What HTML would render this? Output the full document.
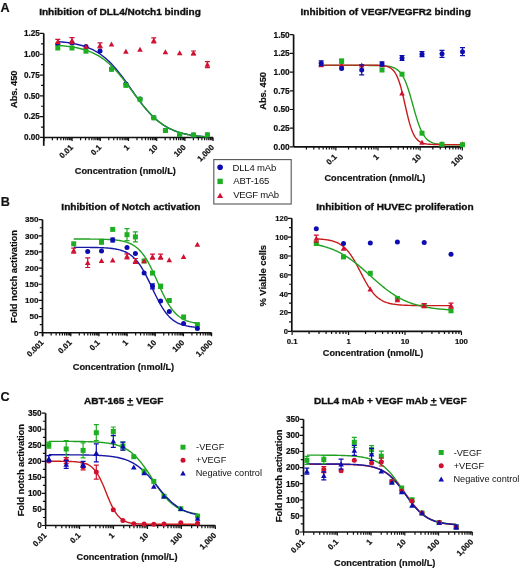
<!DOCTYPE html><html><head><meta charset="utf-8"><style>html,body{margin:0;padding:0;background:#fff;}svg{display:block;filter:blur(0.35px);}text{font-family:"Liberation Sans",sans-serif;}</style></head><body>
<svg width="520" height="570" viewBox="0 0 520 570">
<text x="0.60" y="11.50" font-size="13.6" font-weight="700" text-anchor="start" fill="#111" stroke="#111" stroke-width="0.2" transform="translate(0.60 11.50) scale(0.93 1) translate(-0.60 -11.50)">A</text>
<text x="0.80" y="206.00" font-size="13.6" font-weight="700" text-anchor="start" fill="#111" stroke="#111" stroke-width="0.2" transform="translate(0.80 206.00) scale(0.93 1) translate(-0.80 -206.00)">B</text>
<text x="0.50" y="400.80" font-size="13.6" font-weight="700" text-anchor="start" fill="#111" stroke="#111" stroke-width="0.2" transform="translate(0.50 400.80) scale(0.93 1) translate(-0.50 -400.80)">C</text>
<text x="39.15" y="14.50" font-size="9.7" font-weight="700" fill="#111" stroke="#111" stroke-width="0.35" textLength="161.80" lengthAdjust="spacingAndGlyphs">Inhibition of DLL4/Notch1 binding</text>
<text x="17.50" y="107.93" font-size="9.4" font-weight="700" fill="#111" stroke="#111" stroke-width="0.2" textLength="37.32" lengthAdjust="spacing" transform="rotate(-90 17.50 107.93)">Abs. 450</text>
<text x="74.81" y="174.40" font-size="9.4" font-weight="700" fill="#111" stroke="#111" stroke-width="0.2" textLength="101.05" lengthAdjust="spacingAndGlyphs">Concentration (nmol/L)</text>
<path d="M43.75 33.45V145.80" stroke="#111" stroke-width="1.7" fill="none"/>
<path d="M43.75 137.45H39.95 M43.75 127.05H41.05 M43.75 116.65H39.95 M43.75 106.25H41.05 M43.75 95.85H39.95 M43.75 85.45H41.05 M43.75 75.05H39.95 M43.75 64.65H41.05 M43.75 54.25H39.95 M43.75 43.85H41.05 M43.75 33.45H39.95" stroke="#111" stroke-width="1.2" fill="none"/>
<text x="39.85" y="140.25" font-size="8.2" font-weight="700" text-anchor="end" fill="#111" stroke="#111" stroke-width="0.2">0.00</text>
<text x="39.85" y="119.45" font-size="8.2" font-weight="700" text-anchor="end" fill="#111" stroke="#111" stroke-width="0.2">0.25</text>
<text x="39.85" y="98.65" font-size="8.2" font-weight="700" text-anchor="end" fill="#111" stroke="#111" stroke-width="0.2">0.50</text>
<text x="39.85" y="77.85" font-size="8.2" font-weight="700" text-anchor="end" fill="#111" stroke="#111" stroke-width="0.2">0.75</text>
<text x="39.85" y="57.05" font-size="8.2" font-weight="700" text-anchor="end" fill="#111" stroke="#111" stroke-width="0.2">1.00</text>
<text x="39.85" y="36.25" font-size="8.2" font-weight="700" text-anchor="end" fill="#111" stroke="#111" stroke-width="0.2">1.25</text>
<path d="M43.90 137.45H213.10" stroke="#111" stroke-width="1.6" fill="none"/>
<path d="M43.90 137.45V141.05 M52.39 137.45V140.15 M57.35 137.45V140.15 M60.88 137.45V140.15 M63.61 137.45V140.15 M65.84 137.45V140.15 M67.73 137.45V140.15 M69.37 137.45V140.15 M70.81 137.45V140.15 M72.10 137.45V141.05 M80.59 137.45V140.15 M85.55 137.45V140.15 M89.08 137.45V140.15 M91.81 137.45V140.15 M94.04 137.45V140.15 M95.93 137.45V140.15 M97.57 137.45V140.15 M99.01 137.45V140.15 M100.30 137.45V141.05 M108.79 137.45V140.15 M113.75 137.45V140.15 M117.28 137.45V140.15 M120.01 137.45V140.15 M122.24 137.45V140.15 M124.13 137.45V140.15 M125.77 137.45V140.15 M127.21 137.45V140.15 M128.50 137.45V141.05 M136.99 137.45V140.15 M141.95 137.45V140.15 M145.48 137.45V140.15 M148.21 137.45V140.15 M150.44 137.45V140.15 M152.33 137.45V140.15 M153.97 137.45V140.15 M155.41 137.45V140.15 M156.70 137.45V141.05 M165.19 137.45V140.15 M170.15 137.45V140.15 M173.68 137.45V140.15 M176.41 137.45V140.15 M178.64 137.45V140.15 M180.53 137.45V140.15 M182.17 137.45V140.15 M183.61 137.45V140.15 M184.90 137.45V141.05 M193.39 137.45V140.15 M198.35 137.45V140.15 M201.88 137.45V140.15 M204.61 137.45V140.15 M206.84 137.45V140.15 M208.73 137.45V140.15 M210.37 137.45V140.15 M211.81 137.45V140.15 M213.10 137.45V141.05" stroke="#111" stroke-width="1.2" fill="none"/>
<text x="73.60" y="147.85" font-size="8.0" font-weight="700" text-anchor="end" fill="#111" stroke="#111" stroke-width="0.2" transform="rotate(-45 73.60 147.85)">0.01</text>
<text x="101.80" y="147.85" font-size="8.0" font-weight="700" text-anchor="end" fill="#111" stroke="#111" stroke-width="0.2" transform="rotate(-45 101.80 147.85)">0.1</text>
<text x="130.00" y="147.85" font-size="8.0" font-weight="700" text-anchor="end" fill="#111" stroke="#111" stroke-width="0.2" transform="rotate(-45 130.00 147.85)">1</text>
<text x="158.20" y="147.85" font-size="8.0" font-weight="700" text-anchor="end" fill="#111" stroke="#111" stroke-width="0.2" transform="rotate(-45 158.20 147.85)">10</text>
<text x="186.40" y="147.85" font-size="8.0" font-weight="700" text-anchor="end" fill="#111" stroke="#111" stroke-width="0.2" transform="rotate(-45 186.40 147.85)">100</text>
<text x="214.60" y="147.85" font-size="8.0" font-weight="700" text-anchor="end" fill="#111" stroke="#111" stroke-width="0.2" transform="rotate(-45 214.60 147.85)">1,000</text>
<polyline points="57.80,41.62 58.80,41.70 59.79,41.79 60.79,41.88 61.79,41.97 62.79,42.07 63.78,42.18 64.78,42.29 65.78,42.40 66.78,42.53 67.77,42.66 68.77,42.80 69.77,42.95 70.77,43.10 71.76,43.27 72.76,43.44 73.76,43.62 74.75,43.82 75.75,44.02 76.75,44.23 77.75,44.46 78.74,44.70 79.74,44.95 80.74,45.22 81.74,45.50 82.73,45.79 83.73,46.10 84.73,46.43 85.73,46.77 86.72,47.13 87.72,47.51 88.72,47.91 89.71,48.33 90.71,48.77 91.71,49.23 92.71,49.71 93.70,50.22 94.70,50.75 95.70,51.31 96.70,51.89 97.69,52.49 98.69,53.13 99.69,53.79 100.69,54.48 101.68,55.20 102.68,55.95 103.68,56.73 104.67,57.54 105.67,58.38 106.67,59.25 107.67,60.15 108.66,61.09 109.66,62.05 110.66,63.05 111.66,64.08 112.65,65.14 113.65,66.23 114.65,67.35 115.65,68.50 116.64,69.68 117.64,70.89 118.64,72.12 119.63,73.38 120.63,74.66 121.63,75.97 122.63,77.29 123.62,78.63 124.62,79.99 125.62,81.37 126.62,82.76 127.61,84.15 128.61,85.56 129.61,86.97 130.61,88.39 131.60,89.81 132.60,91.22 133.60,92.64 134.59,94.04 135.59,95.44 136.59,96.83 137.59,98.21 138.58,99.57 139.58,100.91 140.58,102.24 141.58,103.54 142.57,104.82 143.57,106.08 144.57,107.32 145.57,108.53 146.56,109.71 147.56,110.86 148.56,111.98 149.55,113.07 150.55,114.14 151.55,115.17 152.55,116.17 153.54,117.13 154.54,118.07 155.54,118.97 156.54,119.85 157.53,120.69 158.53,121.50 159.53,122.28 160.53,123.03 161.52,123.75 162.52,124.44 163.52,125.11 164.51,125.74 165.51,126.35 166.51,126.93 167.51,127.49 168.50,128.02 169.50,128.53 170.50,129.01 171.50,129.48 172.49,129.92 173.49,130.34 174.49,130.74 175.49,131.12 176.48,131.48 177.48,131.82 178.48,132.15 179.47,132.46 180.47,132.76 181.47,133.04 182.47,133.30 183.46,133.56 184.46,133.80 185.46,134.02 186.46,134.24 187.45,134.44 188.45,134.64 189.45,134.82 190.45,134.99 191.44,135.16 192.44,135.31 193.44,135.46 194.43,135.60 195.43,135.73 196.43,135.86 197.43,135.98 198.42,136.09 199.42,136.19 200.42,136.29 201.42,136.39 202.41,136.48 203.41,136.56 204.41,136.64 205.41,136.72 206.40,136.79 207.40,136.86" fill="none" stroke="#1818a8" stroke-width="1.4"/>
<circle cx="57.80" cy="44.50" r="2.50" fill="#0c0cb0"/>
<circle cx="72.00" cy="43.00" r="2.50" fill="#0c0cb0"/>
<circle cx="86.00" cy="46.60" r="2.50" fill="#0c0cb0"/>
<circle cx="100.00" cy="51.00" r="2.50" fill="#0c0cb0"/>
<circle cx="111.50" cy="69.00" r="2.50" fill="#0c0cb0"/>
<circle cx="125.90" cy="84.00" r="2.50" fill="#0c0cb0"/>
<circle cx="140.00" cy="99.00" r="2.50" fill="#0c0cb0"/>
<circle cx="153.80" cy="117.80" r="2.50" fill="#0c0cb0"/>
<circle cx="165.40" cy="130.50" r="2.50" fill="#0c0cb0"/>
<circle cx="179.70" cy="135.00" r="2.50" fill="#0c0cb0"/>
<circle cx="193.50" cy="134.90" r="2.50" fill="#0c0cb0"/>
<circle cx="207.40" cy="135.00" r="2.50" fill="#0c0cb0"/>
<polyline points="57.80,45.41 58.80,45.48 59.79,45.56 60.79,45.64 61.79,45.73 62.79,45.82 63.78,45.91 64.78,46.02 65.78,46.12 66.78,46.24 67.77,46.36 68.77,46.49 69.77,46.62 70.77,46.76 71.76,46.91 72.76,47.07 73.76,47.24 74.75,47.42 75.75,47.60 76.75,47.80 77.75,48.01 78.74,48.23 79.74,48.46 80.74,48.70 81.74,48.96 82.73,49.23 83.73,49.51 84.73,49.81 85.73,50.12 86.72,50.45 87.72,50.80 88.72,51.17 89.71,51.55 90.71,51.95 91.71,52.38 92.71,52.82 93.70,53.28 94.70,53.77 95.70,54.28 96.70,54.81 97.69,55.37 98.69,55.96 99.69,56.56 100.69,57.20 101.68,57.86 102.68,58.55 103.68,59.27 104.67,60.02 105.67,60.79 106.67,61.60 107.67,62.43 108.66,63.30 109.66,64.19 110.66,65.12 111.66,66.07 112.65,67.06 113.65,68.07 114.65,69.12 115.65,70.19 116.64,71.29 117.64,72.42 118.64,73.57 119.63,74.75 120.63,75.96 121.63,77.18 122.63,78.43 123.62,79.70 124.62,80.98 125.62,82.29 126.62,83.60 127.61,84.93 128.61,86.27 129.61,87.61 130.61,88.96 131.60,90.32 132.60,91.68 133.60,93.03 134.59,94.39 135.59,95.73 136.59,97.07 137.59,98.40 138.58,99.72 139.58,101.03 140.58,102.32 141.58,103.59 142.57,104.84 143.57,106.07 144.57,107.28 145.57,108.47 146.56,109.63 147.56,110.76 148.56,111.87 149.55,112.95 150.55,114.00 151.55,115.02 152.55,116.01 153.54,116.98 154.54,117.91 155.54,118.81 156.54,119.68 157.53,120.53 158.53,121.34 159.53,122.12 160.53,122.88 161.52,123.60 162.52,124.30 163.52,124.97 164.51,125.61 165.51,126.22 166.51,126.81 167.51,127.37 168.50,127.91 169.50,128.43 170.50,128.92 171.50,129.39 172.49,129.84 173.49,130.27 174.49,130.68 175.49,131.06 176.48,131.43 177.48,131.79 178.48,132.12 179.47,132.44 180.47,132.74 181.47,133.03 182.47,133.30 183.46,133.56 184.46,133.81 185.46,134.04 186.46,134.26 187.45,134.47 188.45,134.67 189.45,134.86 190.45,135.04 191.44,135.21 192.44,135.37 193.44,135.52 194.43,135.67 195.43,135.80 196.43,135.93 197.43,136.05 198.42,136.17 199.42,136.28 200.42,136.38 201.42,136.48 202.41,136.57 203.41,136.66 204.41,136.74 205.41,136.82 206.40,136.90 207.40,136.97" fill="none" stroke="#20a020" stroke-width="1.4"/>
<rect x="55.30" y="45.50" width="5.00" height="5.00" fill="#1eae22"/>
<rect x="69.50" y="45.50" width="5.00" height="5.00" fill="#1eae22"/>
<rect x="83.50" y="48.70" width="5.00" height="5.00" fill="#1eae22"/>
<rect x="109.00" y="66.80" width="5.00" height="5.00" fill="#1eae22"/>
<rect x="123.40" y="82.90" width="5.00" height="5.00" fill="#1eae22"/>
<rect x="137.50" y="96.80" width="5.00" height="5.00" fill="#1eae22"/>
<rect x="151.30" y="115.30" width="5.00" height="5.00" fill="#1eae22"/>
<rect x="162.90" y="128.00" width="5.00" height="5.00" fill="#1eae22"/>
<rect x="177.20" y="132.00" width="5.00" height="5.00" fill="#1eae22"/>
<rect x="191.00" y="132.50" width="5.00" height="5.00" fill="#1eae22"/>
<rect x="204.90" y="132.30" width="5.00" height="5.00" fill="#1eae22"/>
<path d="M57.80 39.40V43.40M55.30 39.40H60.30M55.30 43.40H60.30" stroke="#d01030" stroke-width="1.2" fill="none"/>
<polygon points="57.80,38.65 60.60,43.65 55.00,43.65" fill="#d01030"/>
<path d="M72.00 37.60V43.60M69.50 37.60H74.50M69.50 43.60H74.50" stroke="#d01030" stroke-width="1.2" fill="none"/>
<polygon points="72.00,37.85 74.80,42.85 69.20,42.85" fill="#d01030"/>
<polygon points="86.00,43.85 88.80,48.85 83.20,48.85" fill="#d01030"/>
<path d="M100.00 42.90V47.90M97.50 42.90H102.50M97.50 47.90H102.50" stroke="#d01030" stroke-width="1.2" fill="none"/>
<polygon points="100.00,42.65 102.80,47.65 97.20,47.65" fill="#d01030"/>
<polygon points="111.50,41.55 114.30,46.55 108.70,46.55" fill="#d01030"/>
<polygon points="125.90,48.75 128.70,53.75 123.10,53.75" fill="#d01030"/>
<polygon points="140.00,46.85 142.80,51.85 137.20,51.85" fill="#d01030"/>
<path d="M153.80 37.90V42.90M151.30 37.90H156.30M151.30 42.90H156.30" stroke="#d01030" stroke-width="1.2" fill="none"/>
<polygon points="153.80,37.65 156.60,42.65 151.00,42.65" fill="#d01030"/>
<polygon points="165.40,49.25 168.20,54.25 162.60,54.25" fill="#d01030"/>
<polygon points="179.70,50.25 182.50,55.25 176.90,55.25" fill="#d01030"/>
<path d="M193.50 51.00V55.00M191.00 51.00H196.00M191.00 55.00H196.00" stroke="#d01030" stroke-width="1.2" fill="none"/>
<polygon points="193.50,50.25 196.30,55.25 190.70,55.25" fill="#d01030"/>
<path d="M207.40 61.60V67.60M204.90 61.60H209.90M204.90 67.60H209.90" stroke="#d01030" stroke-width="1.2" fill="none"/>
<polygon points="207.40,61.85 210.20,66.85 204.60,66.85" fill="#d01030"/>
<rect x="213.8" y="159.6" width="77.4" height="44.4" fill="#fff" stroke="#555" stroke-width="1.1"/>
<circle cx="220.10" cy="167.20" r="2.80" fill="#0c0cb0"/>
<text x="232.42" y="170.90" font-size="9.5" font-weight="400" fill="#111" textLength="43.88" lengthAdjust="spacing">DLL4 mAb</text>
<rect x="217.40" y="178.70" width="5.40" height="5.40" fill="#1eae22"/>
<text x="233.18" y="184.10" font-size="9.5" font-weight="400" fill="#111" textLength="36.22" lengthAdjust="spacing">ABT-165</text>
<polygon points="220.10,192.63 223.12,198.03 217.08,198.03" fill="#d01030"/>
<text x="233.16" y="197.90" font-size="9.5" font-weight="400" fill="#111" textLength="45.94" lengthAdjust="spacing">VEGF mAb</text>
<text x="300.55" y="14.50" font-size="9.7" font-weight="700" fill="#111" stroke="#111" stroke-width="0.35" textLength="170.30" lengthAdjust="spacingAndGlyphs">Inhibition of VEGF/VEGFR2 binding</text>
<text x="265.90" y="109.73" font-size="9.4" font-weight="700" fill="#111" stroke="#111" stroke-width="0.2" textLength="37.72" lengthAdjust="spacing" transform="rotate(-90 265.90 109.73)">Abs. 450</text>
<text x="324.51" y="181.00" font-size="9.4" font-weight="700" fill="#111" stroke="#111" stroke-width="0.2" textLength="100.85" lengthAdjust="spacingAndGlyphs">Concentration (nmol/L)</text>
<path d="M293.60 34.70V146.90" stroke="#111" stroke-width="1.7" fill="none"/>
<path d="M293.60 146.90H289.80 M293.60 128.20H289.80 M293.60 109.50H289.80 M293.60 90.80H289.80 M293.60 72.10H289.80 M293.60 53.40H289.80 M293.60 34.70H289.80" stroke="#111" stroke-width="1.2" fill="none"/>
<text x="289.70" y="149.70" font-size="8.3" font-weight="700" text-anchor="end" fill="#111" stroke="#111" stroke-width="0.2">0.00</text>
<text x="289.70" y="131.00" font-size="8.3" font-weight="700" text-anchor="end" fill="#111" stroke="#111" stroke-width="0.2">0.25</text>
<text x="289.70" y="112.30" font-size="8.3" font-weight="700" text-anchor="end" fill="#111" stroke="#111" stroke-width="0.2">0.50</text>
<text x="289.70" y="93.60" font-size="8.3" font-weight="700" text-anchor="end" fill="#111" stroke="#111" stroke-width="0.2">0.75</text>
<text x="289.70" y="74.90" font-size="8.3" font-weight="700" text-anchor="end" fill="#111" stroke="#111" stroke-width="0.2">1.00</text>
<text x="289.70" y="56.20" font-size="8.3" font-weight="700" text-anchor="end" fill="#111" stroke="#111" stroke-width="0.2">1.25</text>
<text x="289.70" y="37.50" font-size="8.3" font-weight="700" text-anchor="end" fill="#111" stroke="#111" stroke-width="0.2">1.50</text>
<path d="M293.70 146.90H462.30" stroke="#111" stroke-width="1.6" fill="none"/>
<path d="M306.39 146.90V149.60 M313.81 146.90V149.60 M319.08 146.90V149.60 M323.16 146.90V149.60 M326.50 146.90V149.60 M329.32 146.90V149.60 M331.77 146.90V149.60 M333.92 146.90V149.60 M335.85 146.90V150.50 M348.54 146.90V149.60 M355.96 146.90V149.60 M361.23 146.90V149.60 M365.31 146.90V149.60 M368.65 146.90V149.60 M371.47 146.90V149.60 M373.92 146.90V149.60 M376.07 146.90V149.60 M378.00 146.90V150.50 M390.69 146.90V149.60 M398.11 146.90V149.60 M403.38 146.90V149.60 M407.46 146.90V149.60 M410.80 146.90V149.60 M413.62 146.90V149.60 M416.07 146.90V149.60 M418.22 146.90V149.60 M420.15 146.90V150.50 M432.84 146.90V149.60 M440.26 146.90V149.60 M445.53 146.90V149.60 M449.61 146.90V149.60 M452.95 146.90V149.60 M455.77 146.90V149.60 M458.22 146.90V149.60 M460.37 146.90V149.60 M462.30 146.90V150.50" stroke="#111" stroke-width="1.2" fill="none"/>
<text x="337.35" y="157.30" font-size="8.0" font-weight="700" text-anchor="end" fill="#111" stroke="#111" stroke-width="0.2" transform="rotate(-45 337.35 157.30)">0.1</text>
<text x="379.50" y="157.30" font-size="8.0" font-weight="700" text-anchor="end" fill="#111" stroke="#111" stroke-width="0.2" transform="rotate(-45 379.50 157.30)">1</text>
<text x="421.65" y="157.30" font-size="8.0" font-weight="700" text-anchor="end" fill="#111" stroke="#111" stroke-width="0.2" transform="rotate(-45 421.65 157.30)">10</text>
<text x="463.80" y="157.30" font-size="8.0" font-weight="700" text-anchor="end" fill="#111" stroke="#111" stroke-width="0.2" transform="rotate(-45 463.80 157.30)">100</text>
<polyline points="321.20,65.40 322.20,65.40 323.19,65.40 324.19,65.40 325.18,65.40 326.18,65.40 327.17,65.40 328.17,65.40 329.16,65.40 330.16,65.40 331.15,65.40 332.15,65.40 333.14,65.40 334.14,65.40 335.13,65.40 336.13,65.40 337.12,65.40 338.12,65.40 339.11,65.40 340.11,65.40 341.10,65.40 342.10,65.40 343.09,65.40 344.09,65.40 345.08,65.40 346.08,65.40 347.07,65.40 348.07,65.40 349.06,65.40 350.06,65.40 351.05,65.40 352.05,65.40 353.04,65.40 354.04,65.40 355.03,65.40 356.03,65.40 357.02,65.40 358.02,65.40 359.01,65.40 360.01,65.40 361.00,65.41 362.00,65.41 362.99,65.41 363.99,65.41 364.98,65.41 365.98,65.41 366.97,65.42 367.97,65.42 368.96,65.43 369.96,65.43 370.95,65.44 371.95,65.44 372.94,65.45 373.94,65.46 374.93,65.48 375.93,65.49 376.92,65.51 377.92,65.53 378.91,65.56 379.91,65.59 380.90,65.63 381.90,65.67 382.89,65.73 383.89,65.79 384.88,65.87 385.88,65.96 386.87,66.07 387.87,66.21 388.86,66.36 389.86,66.55 390.85,66.78 391.85,67.05 392.85,67.37 393.84,67.75 394.84,68.21 395.83,68.74 396.83,69.38 397.82,70.12 398.82,71.00 399.81,72.02 400.81,73.21 401.80,74.59 402.80,76.18 403.79,77.99 404.79,80.04 405.78,82.33 406.78,84.88 407.77,87.68 408.77,90.71 409.76,93.95 410.76,97.35 411.75,100.88 412.75,104.48 413.74,108.09 414.74,111.66 415.73,115.11 416.73,118.42 417.72,121.53 418.72,124.41 419.71,127.06 420.71,129.45 421.70,131.59 422.70,133.48 423.69,135.15 424.69,136.60 425.68,137.86 426.68,138.94 427.67,139.87 428.67,140.66 429.66,141.34 430.66,141.91 431.65,142.39 432.65,142.80 433.64,143.14 434.64,143.43 435.63,143.67 436.63,143.87 437.62,144.04 438.62,144.18 439.61,144.30 440.61,144.40 441.60,144.48 442.60,144.55 443.59,144.61 444.59,144.66 445.58,144.70 446.58,144.73 447.57,144.76 448.57,144.78 449.56,144.80 450.56,144.82 451.55,144.83 452.55,144.84 453.54,144.85 454.54,144.86 455.53,144.87 456.53,144.87 457.52,144.88 458.52,144.88 459.51,144.88 460.51,144.89 461.50,144.89 462.50,144.89" fill="none" stroke="#20a020" stroke-width="1.4"/>
<polyline points="321.20,65.10 322.20,65.10 323.19,65.10 324.19,65.10 325.18,65.10 326.18,65.10 327.17,65.10 328.17,65.10 329.16,65.10 330.16,65.10 331.15,65.10 332.15,65.10 333.14,65.10 334.14,65.10 335.13,65.10 336.13,65.10 337.12,65.10 338.12,65.10 339.11,65.10 340.11,65.10 341.10,65.10 342.10,65.10 343.09,65.10 344.09,65.10 345.08,65.10 346.08,65.10 347.07,65.10 348.07,65.10 349.06,65.10 350.06,65.10 351.05,65.10 352.05,65.10 353.04,65.10 354.04,65.10 355.03,65.10 356.03,65.10 357.02,65.10 358.02,65.10 359.01,65.10 360.01,65.10 361.00,65.10 362.00,65.11 362.99,65.11 363.99,65.11 364.98,65.11 365.98,65.11 366.97,65.12 367.97,65.12 368.96,65.12 369.96,65.13 370.95,65.14 371.95,65.15 372.94,65.16 373.94,65.17 374.93,65.19 375.93,65.22 376.92,65.25 377.92,65.28 378.91,65.33 379.91,65.38 380.90,65.45 381.90,65.54 382.89,65.65 383.89,65.79 384.88,65.96 385.88,66.17 386.87,66.43 387.87,66.75 388.86,67.15 389.86,67.65 390.85,68.26 391.85,69.01 392.85,69.92 393.84,71.04 394.84,72.38 395.83,73.99 396.83,75.91 397.82,78.16 398.82,80.78 399.81,83.77 400.81,87.13 401.80,90.85 402.80,94.86 403.79,99.11 404.79,103.49 405.78,107.91 406.78,112.25 407.77,116.42 408.77,120.33 409.76,123.91 410.76,127.13 411.75,129.97 412.75,132.44 413.74,134.56 414.74,136.36 415.73,137.86 416.73,139.11 417.72,140.14 418.72,140.99 419.71,141.68 420.71,142.25 421.70,142.70 422.70,143.07 423.69,143.37 424.69,143.61 425.68,143.80 426.68,143.96 427.67,144.08 428.67,144.19 429.66,144.27 430.66,144.33 431.65,144.38 432.65,144.42 433.64,144.46 434.64,144.48 435.63,144.50 436.63,144.52 437.62,144.54 438.62,144.55 439.61,144.55 440.61,144.56 441.60,144.57 442.60,144.57 443.59,144.58 444.59,144.58 445.58,144.58 446.58,144.58 447.57,144.58 448.57,144.59 449.56,144.59 450.56,144.59 451.55,144.59 452.55,144.59 453.54,144.59 454.54,144.59 455.53,144.59 456.53,144.59 457.52,144.59 458.52,144.59 459.51,144.59 460.51,144.59 461.50,144.59 462.50,144.59" fill="none" stroke="#c81c1c" stroke-width="1.4"/>
<polygon points="321.20,62.25 324.00,67.25 318.40,67.25" fill="#d01030"/>
<polygon points="341.60,62.25 344.40,67.25 338.80,67.25" fill="#d01030"/>
<polygon points="361.70,62.45 364.50,67.45 358.90,67.45" fill="#d01030"/>
<polygon points="382.00,62.25 384.80,67.25 379.20,67.25" fill="#d01030"/>
<polygon points="402.00,90.45 404.80,95.45 399.20,95.45" fill="#d01030"/>
<polygon points="422.00,139.85 424.80,144.85 419.20,144.85" fill="#d01030"/>
<polygon points="442.00,141.25 444.80,146.25 439.20,146.25" fill="#d01030"/>
<polygon points="462.50,141.25 465.30,146.25 459.70,146.25" fill="#d01030"/>
<path d="M341.60 59.20V63.20M339.10 59.20H344.10M339.10 63.20H344.10" stroke="#1eae22" stroke-width="1.2" fill="none"/>
<rect x="339.10" y="58.70" width="5.00" height="5.00" fill="#1eae22"/>
<rect x="379.50" y="67.50" width="5.00" height="5.00" fill="#1eae22"/>
<rect x="399.50" y="71.70" width="5.00" height="5.00" fill="#1eae22"/>
<rect x="419.50" y="130.70" width="5.00" height="5.00" fill="#1eae22"/>
<rect x="439.50" y="141.80" width="5.00" height="5.00" fill="#1eae22"/>
<rect x="460.00" y="142.20" width="5.00" height="5.00" fill="#1eae22"/>
<path d="M321.20 60.80V65.60M318.70 60.80H323.70M318.70 65.60H323.70" stroke="#0c0cb0" stroke-width="1.2" fill="none"/>
<circle cx="321.20" cy="63.20" r="2.50" fill="#0c0cb0"/>
<circle cx="341.60" cy="68.50" r="2.50" fill="#0c0cb0"/>
<path d="M361.70 64.90V74.90M359.20 64.90H364.20M359.20 74.90H364.20" stroke="#0c0cb0" stroke-width="1.2" fill="none"/>
<circle cx="361.70" cy="69.90" r="2.50" fill="#0c0cb0"/>
<path d="M382.00 61.90V65.90M379.50 61.90H384.50M379.50 65.90H384.50" stroke="#0c0cb0" stroke-width="1.2" fill="none"/>
<circle cx="382.00" cy="63.90" r="2.50" fill="#0c0cb0"/>
<path d="M402.00 55.50V60.50M399.50 55.50H404.50M399.50 60.50H404.50" stroke="#0c0cb0" stroke-width="1.2" fill="none"/>
<circle cx="402.00" cy="58.00" r="2.50" fill="#0c0cb0"/>
<path d="M422.00 51.70V56.70M419.50 51.70H424.50M419.50 56.70H424.50" stroke="#0c0cb0" stroke-width="1.2" fill="none"/>
<circle cx="422.00" cy="54.20" r="2.50" fill="#0c0cb0"/>
<path d="M442.00 50.30V57.30M439.50 50.30H444.50M439.50 57.30H444.50" stroke="#0c0cb0" stroke-width="1.2" fill="none"/>
<circle cx="442.00" cy="53.80" r="2.50" fill="#0c0cb0"/>
<path d="M462.50 47.70V55.70M460.00 47.70H465.00M460.00 55.70H465.00" stroke="#0c0cb0" stroke-width="1.2" fill="none"/>
<circle cx="462.50" cy="51.70" r="2.50" fill="#0c0cb0"/>
<text x="61.35" y="209.60" font-size="9.7" font-weight="700" fill="#111" stroke="#111" stroke-width="0.35" textLength="138.95" lengthAdjust="spacingAndGlyphs">Inhibition of Notch activation</text>
<text x="17.40" y="323.03" font-size="9.4" font-weight="700" fill="#111" stroke="#111" stroke-width="0.2" textLength="93.01" lengthAdjust="spacing" transform="rotate(-90 17.40 323.03)">Fold notch activation</text>
<text x="72.81" y="369.60" font-size="9.4" font-weight="700" fill="#111" stroke="#111" stroke-width="0.2" textLength="101.35" lengthAdjust="spacingAndGlyphs">Concentration (nmol/L)</text>
<path d="M42.50 219.65V336.30" stroke="#111" stroke-width="1.7" fill="none"/>
<path d="M42.50 332.70H38.70 M42.50 324.62H39.80 M42.50 316.55H38.70 M42.50 308.48H39.80 M42.50 300.40H38.70 M42.50 292.32H39.80 M42.50 284.25H38.70 M42.50 276.18H39.80 M42.50 268.10H38.70 M42.50 260.03H39.80 M42.50 251.95H38.70 M42.50 243.88H39.80 M42.50 235.80H38.70 M42.50 227.73H39.80 M42.50 219.65H38.70" stroke="#111" stroke-width="1.2" fill="none"/>
<text x="38.60" y="335.50" font-size="8.1" font-weight="700" text-anchor="end" fill="#111" stroke="#111" stroke-width="0.2">0</text>
<text x="38.60" y="319.35" font-size="8.1" font-weight="700" text-anchor="end" fill="#111" stroke="#111" stroke-width="0.2">50</text>
<text x="38.60" y="303.20" font-size="8.1" font-weight="700" text-anchor="end" fill="#111" stroke="#111" stroke-width="0.2">100</text>
<text x="38.60" y="287.05" font-size="8.1" font-weight="700" text-anchor="end" fill="#111" stroke="#111" stroke-width="0.2">150</text>
<text x="38.60" y="270.90" font-size="8.1" font-weight="700" text-anchor="end" fill="#111" stroke="#111" stroke-width="0.2">200</text>
<text x="38.60" y="254.75" font-size="8.1" font-weight="700" text-anchor="end" fill="#111" stroke="#111" stroke-width="0.2">250</text>
<text x="38.60" y="238.60" font-size="8.1" font-weight="700" text-anchor="end" fill="#111" stroke="#111" stroke-width="0.2">300</text>
<text x="38.60" y="222.45" font-size="8.1" font-weight="700" text-anchor="end" fill="#111" stroke="#111" stroke-width="0.2">350</text>
<path d="M42.70 332.70H211.60" stroke="#111" stroke-width="1.6" fill="none"/>
<path d="M42.70 332.70V336.30 M51.17 332.70V335.40 M56.13 332.70V335.40 M59.65 332.70V335.40 M62.38 332.70V335.40 M64.60 332.70V335.40 M66.49 332.70V335.40 M68.12 332.70V335.40 M69.56 332.70V335.40 M70.85 332.70V336.30 M79.32 332.70V335.40 M84.28 332.70V335.40 M87.80 332.70V335.40 M90.53 332.70V335.40 M92.75 332.70V335.40 M94.64 332.70V335.40 M96.27 332.70V335.40 M97.71 332.70V335.40 M99.00 332.70V336.30 M107.47 332.70V335.40 M112.43 332.70V335.40 M115.95 332.70V335.40 M118.68 332.70V335.40 M120.90 332.70V335.40 M122.79 332.70V335.40 M124.42 332.70V335.40 M125.86 332.70V335.40 M127.15 332.70V336.30 M135.62 332.70V335.40 M140.58 332.70V335.40 M144.10 332.70V335.40 M146.83 332.70V335.40 M149.05 332.70V335.40 M150.94 332.70V335.40 M152.57 332.70V335.40 M154.01 332.70V335.40 M155.30 332.70V336.30 M163.77 332.70V335.40 M168.73 332.70V335.40 M172.25 332.70V335.40 M174.98 332.70V335.40 M177.20 332.70V335.40 M179.09 332.70V335.40 M180.72 332.70V335.40 M182.16 332.70V335.40 M183.45 332.70V336.30 M191.92 332.70V335.40 M196.88 332.70V335.40 M200.40 332.70V335.40 M203.13 332.70V335.40 M205.35 332.70V335.40 M207.24 332.70V335.40 M208.87 332.70V335.40 M210.31 332.70V335.40 M211.60 332.70V336.30" stroke="#111" stroke-width="1.2" fill="none"/>
<text x="44.20" y="343.10" font-size="8.0" font-weight="700" text-anchor="end" fill="#111" stroke="#111" stroke-width="0.2" transform="rotate(-45 44.20 343.10)">0.001</text>
<text x="72.35" y="343.10" font-size="8.0" font-weight="700" text-anchor="end" fill="#111" stroke="#111" stroke-width="0.2" transform="rotate(-45 72.35 343.10)">0.01</text>
<text x="100.50" y="343.10" font-size="8.0" font-weight="700" text-anchor="end" fill="#111" stroke="#111" stroke-width="0.2" transform="rotate(-45 100.50 343.10)">0.1</text>
<text x="128.65" y="343.10" font-size="8.0" font-weight="700" text-anchor="end" fill="#111" stroke="#111" stroke-width="0.2" transform="rotate(-45 128.65 343.10)">1</text>
<text x="156.80" y="343.10" font-size="8.0" font-weight="700" text-anchor="end" fill="#111" stroke="#111" stroke-width="0.2" transform="rotate(-45 156.80 343.10)">10</text>
<text x="184.95" y="343.10" font-size="8.0" font-weight="700" text-anchor="end" fill="#111" stroke="#111" stroke-width="0.2" transform="rotate(-45 184.95 343.10)">100</text>
<text x="213.10" y="343.10" font-size="8.0" font-weight="700" text-anchor="end" fill="#111" stroke="#111" stroke-width="0.2" transform="rotate(-45 213.10 343.10)">1,000</text>
<polyline points="73.70,239.01 74.70,239.01 75.70,239.02 76.69,239.02 77.69,239.02 78.69,239.02 79.69,239.02 80.68,239.03 81.68,239.03 82.68,239.03 83.68,239.04 84.67,239.04 85.67,239.04 86.67,239.05 87.67,239.05 88.66,239.06 89.66,239.07 90.66,239.08 91.66,239.08 92.65,239.09 93.65,239.10 94.65,239.11 95.65,239.13 96.64,239.14 97.64,239.16 98.64,239.17 99.64,239.19 100.63,239.21 101.63,239.24 102.63,239.26 103.63,239.29 104.62,239.33 105.62,239.36 106.62,239.40 107.62,239.45 108.62,239.50 109.61,239.55 110.61,239.61 111.61,239.68 112.61,239.75 113.60,239.83 114.60,239.92 115.60,240.03 116.60,240.14 117.59,240.26 118.59,240.40 119.59,240.55 120.59,240.72 121.58,240.91 122.58,241.11 123.58,241.34 124.58,241.59 125.57,241.87 126.57,242.17 127.57,242.51 128.57,242.88 129.56,243.29 130.56,243.74 131.56,244.23 132.56,244.77 133.55,245.36 134.55,246.01 135.55,246.72 136.55,247.49 137.55,248.32 138.54,249.23 139.54,250.22 140.54,251.28 141.54,252.43 142.53,253.66 143.53,254.98 144.53,256.39 145.53,257.89 146.52,259.48 147.52,261.16 148.52,262.92 149.52,264.77 150.51,266.70 151.51,268.70 152.51,270.77 153.51,272.89 154.50,275.06 155.50,277.27 156.50,279.50 157.50,281.74 158.49,283.99 159.49,286.22 160.49,288.42 161.49,290.59 162.48,292.72 163.48,294.78 164.48,296.78 165.48,298.71 166.48,300.56 167.47,302.33 168.47,304.01 169.47,305.60 170.47,307.10 171.46,308.51 172.46,309.83 173.46,311.07 174.46,312.21 175.45,313.28 176.45,314.26 177.45,315.17 178.45,316.01 179.44,316.78 180.44,317.48 181.44,318.13 182.44,318.72 183.43,319.26 184.43,319.76 185.43,320.21 186.43,320.62 187.42,320.99 188.42,321.32 189.42,321.63 190.42,321.91 191.41,322.16 192.41,322.39 193.41,322.59 194.41,322.78 195.40,322.95 196.40,323.10 197.40,323.24" fill="none" stroke="#20a020" stroke-width="1.4"/>
<polyline points="73.70,247.32 74.70,247.32 75.70,247.33 76.69,247.33 77.69,247.33 78.69,247.34 79.69,247.34 80.68,247.34 81.68,247.35 82.68,247.35 83.68,247.36 84.67,247.37 85.67,247.37 86.67,247.38 87.67,247.39 88.66,247.40 89.66,247.41 90.66,247.43 91.66,247.44 92.65,247.46 93.65,247.47 94.65,247.49 95.65,247.51 96.64,247.54 97.64,247.56 98.64,247.59 99.64,247.62 100.63,247.66 101.63,247.70 102.63,247.74 103.63,247.79 104.62,247.85 105.62,247.91 106.62,247.97 107.62,248.05 108.62,248.13 109.61,248.22 110.61,248.32 111.61,248.43 112.61,248.56 113.60,248.69 114.60,248.84 115.60,249.01 116.60,249.20 117.59,249.40 118.59,249.63 119.59,249.88 120.59,250.15 121.58,250.46 122.58,250.79 123.58,251.16 124.58,251.56 125.57,252.01 126.57,252.49 127.57,253.03 128.57,253.61 129.56,254.25 130.56,254.95 131.56,255.71 132.56,256.53 133.55,257.43 134.55,258.39 135.55,259.44 136.55,260.56 137.55,261.76 138.54,263.05 139.54,264.43 140.54,265.89 141.54,267.43 142.53,269.06 143.53,270.77 144.53,272.55 145.53,274.41 146.52,276.33 147.52,278.31 148.52,280.34 149.52,282.40 150.51,284.50 151.51,286.61 152.51,288.73 153.51,290.84 154.50,292.94 155.50,295.00 156.50,297.03 157.50,299.01 158.49,300.93 159.49,302.78 160.49,304.57 161.49,306.27 162.48,307.90 163.48,309.44 164.48,310.90 165.48,312.27 166.48,313.56 167.47,314.76 168.47,315.89 169.47,316.93 170.47,317.89 171.46,318.79 172.46,319.61 173.46,320.37 174.46,321.06 175.45,321.70 176.45,322.28 177.45,322.82 178.45,323.30 179.44,323.75 180.44,324.15 181.44,324.52 182.44,324.85 183.43,325.15 184.43,325.43 185.43,325.68 186.43,325.90 187.42,326.11 188.42,326.29 189.42,326.46 190.42,326.61 191.41,326.75 192.41,326.87 193.41,326.98 194.41,327.08 195.40,327.17 196.40,327.25 197.40,327.33" fill="none" stroke="#1818a8" stroke-width="1.4"/>
<rect x="71.20" y="241.30" width="5.00" height="5.00" fill="#1eae22"/>
<rect x="99.00" y="239.80" width="5.00" height="5.00" fill="#1eae22"/>
<rect x="110.20" y="226.90" width="5.00" height="5.00" fill="#1eae22"/>
<path d="M127.00 228.70V240.70M124.50 228.70H129.50M124.50 240.70H129.50" stroke="#1eae22" stroke-width="1.2" fill="none"/>
<rect x="124.50" y="232.20" width="5.00" height="5.00" fill="#1eae22"/>
<path d="M135.40 231.90V241.90M132.90 231.90H137.90M132.90 241.90H137.90" stroke="#1eae22" stroke-width="1.2" fill="none"/>
<rect x="132.90" y="234.40" width="5.00" height="5.00" fill="#1eae22"/>
<rect x="141.60" y="258.50" width="5.00" height="5.00" fill="#1eae22"/>
<rect x="150.00" y="270.60" width="5.00" height="5.00" fill="#1eae22"/>
<path d="M160.60 284.30V288.30M158.10 284.30H163.10M158.10 288.30H163.10" stroke="#1eae22" stroke-width="1.2" fill="none"/>
<rect x="158.10" y="283.80" width="5.00" height="5.00" fill="#1eae22"/>
<rect x="166.80" y="298.00" width="5.00" height="5.00" fill="#1eae22"/>
<rect x="181.10" y="314.50" width="5.00" height="5.00" fill="#1eae22"/>
<rect x="194.90" y="322.10" width="5.00" height="5.00" fill="#1eae22"/>
<circle cx="87.70" cy="251.50" r="2.50" fill="#0c0cb0"/>
<circle cx="101.50" cy="251.00" r="2.50" fill="#0c0cb0"/>
<path d="M112.70 238.00V242.00M110.20 238.00H115.20M110.20 242.00H115.20" stroke="#0c0cb0" stroke-width="1.2" fill="none"/>
<circle cx="112.70" cy="240.00" r="2.50" fill="#0c0cb0"/>
<circle cx="127.00" cy="247.50" r="2.50" fill="#0c0cb0"/>
<circle cx="135.40" cy="253.40" r="2.50" fill="#0c0cb0"/>
<circle cx="144.10" cy="273.10" r="2.50" fill="#0c0cb0"/>
<path d="M152.50 283.80V288.80M150.00 283.80H155.00M150.00 288.80H155.00" stroke="#0c0cb0" stroke-width="1.2" fill="none"/>
<circle cx="152.50" cy="286.30" r="2.50" fill="#0c0cb0"/>
<circle cx="160.60" cy="301.00" r="2.50" fill="#0c0cb0"/>
<circle cx="169.30" cy="311.50" r="2.50" fill="#0c0cb0"/>
<circle cx="183.60" cy="323.60" r="2.50" fill="#0c0cb0"/>
<circle cx="197.40" cy="328.40" r="2.50" fill="#0c0cb0"/>
<path d="M73.70 248.10V253.10M71.20 248.10H76.20M71.20 253.10H76.20" stroke="#d01030" stroke-width="1.2" fill="none"/>
<polygon points="73.70,247.85 76.50,252.85 70.90,252.85" fill="#d01030"/>
<path d="M87.70 257.90V267.50M85.20 257.90H90.20M85.20 267.50H90.20" stroke="#d01030" stroke-width="1.2" fill="none"/>
<polygon points="87.70,259.95 90.50,264.95 84.90,264.95" fill="#d01030"/>
<polygon points="101.50,258.05 104.30,263.05 98.70,263.05" fill="#d01030"/>
<polygon points="112.70,257.45 115.50,262.45 109.90,262.45" fill="#d01030"/>
<path d="M127.00 253.80V258.80M124.50 253.80H129.50M124.50 258.80H129.50" stroke="#d01030" stroke-width="1.2" fill="none"/>
<polygon points="127.00,253.55 129.80,258.55 124.20,258.55" fill="#d01030"/>
<path d="M135.40 258.50V263.50M132.90 258.50H137.90M132.90 263.50H137.90" stroke="#d01030" stroke-width="1.2" fill="none"/>
<polygon points="135.40,258.25 138.20,263.25 132.60,263.25" fill="#d01030"/>
<polygon points="144.10,258.25 146.90,263.25 141.30,263.25" fill="#d01030"/>
<path d="M152.50 254.20V259.20M150.00 254.20H155.00M150.00 259.20H155.00" stroke="#d01030" stroke-width="1.2" fill="none"/>
<polygon points="152.50,253.95 155.30,258.95 149.70,258.95" fill="#d01030"/>
<path d="M160.60 254.20V259.20M158.10 254.20H163.10M158.10 259.20H163.10" stroke="#d01030" stroke-width="1.2" fill="none"/>
<polygon points="160.60,253.95 163.40,258.95 157.80,258.95" fill="#d01030"/>
<polygon points="169.30,257.25 172.10,262.25 166.50,262.25" fill="#d01030"/>
<polygon points="183.60,253.95 186.40,258.95 180.80,258.95" fill="#d01030"/>
<polygon points="197.40,241.85 200.20,246.85 194.60,246.85" fill="#d01030"/>
<text x="316.25" y="209.50" font-size="9.7" font-weight="700" fill="#111" stroke="#111" stroke-width="0.35" textLength="157.45" lengthAdjust="spacingAndGlyphs">Inhibition of HUVEC proliferation</text>
<text x="266.10" y="306.53" font-size="9.4" font-weight="700" fill="#111" stroke="#111" stroke-width="0.2" textLength="61.62" lengthAdjust="spacing" transform="rotate(-90 266.10 306.53)">% Viable cells</text>
<text x="322.81" y="356.40" font-size="9.4" font-weight="700" fill="#111" stroke="#111" stroke-width="0.2" textLength="100.45" lengthAdjust="spacingAndGlyphs">Concentration (nmol/L)</text>
<path d="M291.80 218.30V331.40" stroke="#111" stroke-width="1.7" fill="none"/>
<path d="M291.80 331.40H288.00 M291.80 321.97H289.10 M291.80 312.55H288.00 M291.80 303.12H289.10 M291.80 293.70H288.00 M291.80 284.27H289.10 M291.80 274.85H288.00 M291.80 265.42H289.10 M291.80 256.00H288.00 M291.80 246.57H289.10 M291.80 237.15H288.00 M291.80 227.72H289.10 M291.80 218.30H288.00" stroke="#111" stroke-width="1.2" fill="none"/>
<text x="287.90" y="334.20" font-size="7.6" font-weight="700" text-anchor="end" fill="#111" stroke="#111" stroke-width="0.2">0</text>
<text x="287.90" y="315.35" font-size="7.6" font-weight="700" text-anchor="end" fill="#111" stroke="#111" stroke-width="0.2">20</text>
<text x="287.90" y="296.50" font-size="7.6" font-weight="700" text-anchor="end" fill="#111" stroke="#111" stroke-width="0.2">40</text>
<text x="287.90" y="277.65" font-size="7.6" font-weight="700" text-anchor="end" fill="#111" stroke="#111" stroke-width="0.2">60</text>
<text x="287.90" y="258.80" font-size="7.6" font-weight="700" text-anchor="end" fill="#111" stroke="#111" stroke-width="0.2">80</text>
<text x="287.90" y="239.95" font-size="7.6" font-weight="700" text-anchor="end" fill="#111" stroke="#111" stroke-width="0.2">100</text>
<text x="287.90" y="221.10" font-size="7.6" font-weight="700" text-anchor="end" fill="#111" stroke="#111" stroke-width="0.2">120</text>
<path d="M292.10 331.40H461.45" stroke="#111" stroke-width="1.6" fill="none"/>
<path d="M292.10 331.40V335.00 M309.09 331.40V334.10 M319.03 331.40V334.10 M326.09 331.40V334.10 M331.56 331.40V334.10 M336.03 331.40V334.10 M339.81 331.40V334.10 M343.08 331.40V334.10 M345.97 331.40V334.10 M348.55 331.40V335.00 M365.54 331.40V334.10 M375.48 331.40V334.10 M382.54 331.40V334.10 M388.01 331.40V334.10 M392.48 331.40V334.10 M396.26 331.40V334.10 M399.53 331.40V334.10 M402.42 331.40V334.10 M405.00 331.40V335.00 M421.99 331.40V334.10 M431.93 331.40V334.10 M438.99 331.40V334.10 M444.46 331.40V334.10 M448.93 331.40V334.10 M452.71 331.40V334.10 M455.98 331.40V334.10 M458.87 331.40V334.10 M461.45 331.40V335.00" stroke="#111" stroke-width="1.2" fill="none"/>
<text x="292.10" y="344.40" font-size="7.8" font-weight="700" text-anchor="middle" fill="#111" stroke="#111" stroke-width="0.2">0.1</text>
<text x="348.55" y="344.40" font-size="7.8" font-weight="700" text-anchor="middle" fill="#111" stroke="#111" stroke-width="0.2">1</text>
<text x="405.00" y="344.40" font-size="7.8" font-weight="700" text-anchor="middle" fill="#111" stroke="#111" stroke-width="0.2">10</text>
<text x="461.45" y="344.40" font-size="7.8" font-weight="700" text-anchor="middle" fill="#111" stroke="#111" stroke-width="0.2">100</text>
<polyline points="316.30,238.87 317.30,238.92 318.30,238.97 319.29,239.03 320.29,239.10 321.29,239.18 322.29,239.26 323.28,239.36 324.28,239.47 325.28,239.59 326.28,239.72 327.28,239.87 328.27,240.04 329.27,240.23 330.27,240.44 331.27,240.67 332.26,240.93 333.26,241.22 334.26,241.54 335.26,241.90 336.26,242.29 337.25,242.73 338.25,243.22 339.25,243.75 340.25,244.35 341.24,245.00 342.24,245.71 343.24,246.49 344.24,247.34 345.24,248.27 346.23,249.28 347.23,250.37 348.23,251.55 349.23,252.81 350.22,254.15 351.22,255.59 352.22,257.10 353.22,258.70 354.22,260.37 355.21,262.11 356.21,263.91 357.21,265.76 358.21,267.65 359.20,269.57 360.20,271.50 361.20,273.44 362.20,275.38 363.20,277.28 364.19,279.16 365.19,280.99 366.19,282.76 367.19,284.47 368.18,286.11 369.18,287.67 370.18,289.15 371.18,290.54 372.18,291.85 373.17,293.08 374.17,294.21 375.17,295.27 376.17,296.24 377.16,297.13 378.16,297.95 379.16,298.70 380.16,299.39 381.16,300.01 382.15,300.58 383.15,301.09 384.15,301.56 385.15,301.98 386.14,302.36 387.14,302.70 388.14,303.00 389.14,303.28 390.14,303.53 391.13,303.75 392.13,303.95 393.13,304.13 394.13,304.29 395.12,304.43 396.12,304.56 397.12,304.67 398.12,304.77 399.12,304.87 400.11,304.95 401.11,305.02 402.11,305.08 403.11,305.14 404.10,305.19 405.10,305.24 406.10,305.28 407.10,305.32 408.10,305.35 409.09,305.38 410.09,305.41 411.09,305.43 412.09,305.45 413.08,305.47 414.08,305.49 415.08,305.50 416.08,305.51 417.08,305.52 418.07,305.54 419.07,305.54 420.07,305.55 421.07,305.56 422.06,305.57 423.06,305.57 424.06,305.58 425.06,305.58 426.06,305.59 427.05,305.59 428.05,305.59 429.05,305.60 430.05,305.60 431.04,305.60 432.04,305.60 433.04,305.61 434.04,305.61 435.04,305.61 436.03,305.61 437.03,305.61 438.03,305.61 439.03,305.61 440.02,305.61 441.02,305.61 442.02,305.61 443.02,305.62 444.02,305.62 445.01,305.62 446.01,305.62 447.01,305.62 448.01,305.62 449.00,305.62 450.00,305.62 451.00,305.62" fill="none" stroke="#c81c1c" stroke-width="1.4"/>
<polyline points="316.30,244.63 317.30,244.83 318.30,245.05 319.29,245.27 320.29,245.51 321.29,245.76 322.29,246.01 323.28,246.28 324.28,246.56 325.28,246.86 326.28,247.16 327.28,247.48 328.27,247.81 329.27,248.15 330.27,248.51 331.27,248.88 332.26,249.27 333.26,249.67 334.26,250.09 335.26,250.52 336.26,250.97 337.25,251.44 338.25,251.92 339.25,252.42 340.25,252.94 341.24,253.47 342.24,254.02 343.24,254.59 344.24,255.17 345.24,255.78 346.23,256.40 347.23,257.04 348.23,257.69 349.23,258.37 350.22,259.06 351.22,259.76 352.22,260.49 353.22,261.22 354.22,261.98 355.21,262.75 356.21,263.53 357.21,264.33 358.21,265.14 359.20,265.97 360.20,266.80 361.20,267.65 362.20,268.50 363.20,269.37 364.19,270.24 365.19,271.12 366.19,272.01 367.19,272.90 368.18,273.79 369.18,274.69 370.18,275.59 371.18,276.49 372.18,277.38 373.17,278.28 374.17,279.17 375.17,280.06 376.17,280.94 377.16,281.81 378.16,282.68 379.16,283.54 380.16,284.39 381.16,285.23 382.15,286.05 383.15,286.87 384.15,287.67 385.15,288.46 386.14,289.23 387.14,289.99 388.14,290.73 389.14,291.46 390.14,292.17 391.13,292.87 392.13,293.54 393.13,294.20 394.13,294.85 395.12,295.47 396.12,296.08 397.12,296.67 398.12,297.24 399.12,297.80 400.11,298.34 401.11,298.86 402.11,299.36 403.11,299.85 404.10,300.32 405.10,300.77 406.10,301.21 407.10,301.63 408.10,302.04 409.09,302.43 410.09,302.80 411.09,303.16 412.09,303.51 413.08,303.85 414.08,304.17 415.08,304.48 416.08,304.77 417.08,305.05 418.07,305.33 419.07,305.59 420.07,305.84 421.07,306.07 422.06,306.30 423.06,306.52 424.06,306.73 425.06,306.93 426.06,307.12 427.05,307.31 428.05,307.48 429.05,307.65 430.05,307.81 431.04,307.96 432.04,308.10 433.04,308.24 434.04,308.37 435.04,308.50 436.03,308.62 437.03,308.73 438.03,308.84 439.03,308.95 440.02,309.05 441.02,309.14 442.02,309.23 443.02,309.32 444.02,309.40 445.01,309.48 446.01,309.55 447.01,309.62 448.01,309.69 449.00,309.76 450.00,309.82 451.00,309.88" fill="none" stroke="#20a020" stroke-width="1.4"/>
<rect x="313.80" y="241.00" width="5.00" height="5.00" fill="#1eae22"/>
<rect x="341.00" y="254.40" width="5.00" height="5.00" fill="#1eae22"/>
<rect x="367.80" y="270.80" width="5.00" height="5.00" fill="#1eae22"/>
<rect x="394.90" y="295.90" width="5.00" height="5.00" fill="#1eae22"/>
<rect x="421.70" y="303.10" width="5.00" height="5.00" fill="#1eae22"/>
<rect x="448.50" y="308.30" width="5.00" height="5.00" fill="#1eae22"/>
<path d="M316.30 235.10V242.10M313.80 235.10H318.80M313.80 242.10H318.80" stroke="#d01030" stroke-width="1.2" fill="none"/>
<polygon points="316.30,235.85 319.10,240.85 313.50,240.85" fill="#d01030"/>
<polygon points="343.50,245.65 346.30,250.65 340.70,250.65" fill="#d01030"/>
<polygon points="370.30,286.55 373.10,291.55 367.50,291.55" fill="#d01030"/>
<polygon points="397.40,297.25 400.20,302.25 394.60,302.25" fill="#d01030"/>
<path d="M424.20 303.60V307.60M421.70 303.60H426.70M421.70 307.60H426.70" stroke="#d01030" stroke-width="1.2" fill="none"/>
<polygon points="424.20,302.85 427.00,307.85 421.40,307.85" fill="#d01030"/>
<path d="M451.00 303.10V308.10M448.50 303.10H453.50M448.50 308.10H453.50" stroke="#d01030" stroke-width="1.2" fill="none"/>
<polygon points="451.00,302.85 453.80,307.85 448.20,307.85" fill="#d01030"/>
<circle cx="316.30" cy="228.80" r="2.50" fill="#0c0cb0"/>
<circle cx="343.50" cy="243.50" r="2.50" fill="#0c0cb0"/>
<circle cx="370.30" cy="242.90" r="2.50" fill="#0c0cb0"/>
<circle cx="397.40" cy="241.90" r="2.50" fill="#0c0cb0"/>
<circle cx="424.20" cy="242.50" r="2.50" fill="#0c0cb0"/>
<circle cx="451.00" cy="254.30" r="2.50" fill="#0c0cb0"/>
<text x="84.06" y="403.60" font-size="9.7" font-weight="700" fill="#111" stroke="#111" stroke-width="0.35" textLength="79.40" lengthAdjust="spacingAndGlyphs">ABT-165 <tspan text-decoration="underline">+</tspan> VEGF</text>
<text x="24.50" y="516.33" font-size="9.4" font-weight="700" fill="#111" stroke="#111" stroke-width="0.2" textLength="92.31" lengthAdjust="spacing" transform="rotate(-90 24.50 516.33)">Fold notch activation</text>
<text x="76.51" y="560.10" font-size="9.4" font-weight="700" fill="#111" stroke="#111" stroke-width="0.2" textLength="100.95" lengthAdjust="spacingAndGlyphs">Concentration (nmol/L)</text>
<path d="M45.60 413.22V525.50" stroke="#111" stroke-width="1.7" fill="none"/>
<path d="M45.60 525.50H41.80 M45.60 517.48H42.90 M45.60 509.46H41.80 M45.60 501.44H42.90 M45.60 493.42H41.80 M45.60 485.40H42.90 M45.60 477.38H41.80 M45.60 469.36H42.90 M45.60 461.34H41.80 M45.60 453.32H42.90 M45.60 445.30H41.80 M45.60 437.28H42.90 M45.60 429.26H41.80 M45.60 421.24H42.90 M45.60 413.22H41.80" stroke="#111" stroke-width="1.2" fill="none"/>
<text x="41.70" y="528.30" font-size="8.2" font-weight="700" text-anchor="end" fill="#111" stroke="#111" stroke-width="0.2">0</text>
<text x="41.70" y="512.26" font-size="8.2" font-weight="700" text-anchor="end" fill="#111" stroke="#111" stroke-width="0.2">50</text>
<text x="41.70" y="496.22" font-size="8.2" font-weight="700" text-anchor="end" fill="#111" stroke="#111" stroke-width="0.2">100</text>
<text x="41.70" y="480.18" font-size="8.2" font-weight="700" text-anchor="end" fill="#111" stroke="#111" stroke-width="0.2">150</text>
<text x="41.70" y="464.14" font-size="8.2" font-weight="700" text-anchor="end" fill="#111" stroke="#111" stroke-width="0.2">200</text>
<text x="41.70" y="448.10" font-size="8.2" font-weight="700" text-anchor="end" fill="#111" stroke="#111" stroke-width="0.2">250</text>
<text x="41.70" y="432.06" font-size="8.2" font-weight="700" text-anchor="end" fill="#111" stroke="#111" stroke-width="0.2">300</text>
<text x="41.70" y="416.02" font-size="8.2" font-weight="700" text-anchor="end" fill="#111" stroke="#111" stroke-width="0.2">350</text>
<path d="M45.60 525.50H215.35" stroke="#111" stroke-width="1.6" fill="none"/>
<path d="M45.60 525.50V529.10 M55.82 525.50V528.20 M61.80 525.50V528.20 M66.04 525.50V528.20 M69.33 525.50V528.20 M72.02 525.50V528.20 M74.29 525.50V528.20 M76.26 525.50V528.20 M78.00 525.50V528.20 M79.55 525.50V529.10 M89.77 525.50V528.20 M95.75 525.50V528.20 M99.99 525.50V528.20 M103.28 525.50V528.20 M105.97 525.50V528.20 M108.24 525.50V528.20 M110.21 525.50V528.20 M111.95 525.50V528.20 M113.50 525.50V529.10 M123.72 525.50V528.20 M129.70 525.50V528.20 M133.94 525.50V528.20 M137.23 525.50V528.20 M139.92 525.50V528.20 M142.19 525.50V528.20 M144.16 525.50V528.20 M145.90 525.50V528.20 M147.45 525.50V529.10 M157.67 525.50V528.20 M163.65 525.50V528.20 M167.89 525.50V528.20 M171.18 525.50V528.20 M173.87 525.50V528.20 M176.14 525.50V528.20 M178.11 525.50V528.20 M179.85 525.50V528.20 M181.40 525.50V529.10 M191.62 525.50V528.20 M197.60 525.50V528.20 M201.84 525.50V528.20 M205.13 525.50V528.20 M207.82 525.50V528.20 M210.09 525.50V528.20 M212.06 525.50V528.20 M213.80 525.50V528.20 M215.35 525.50V529.10" stroke="#111" stroke-width="1.2" fill="none"/>
<text x="47.10" y="535.90" font-size="8.0" font-weight="700" text-anchor="end" fill="#111" stroke="#111" stroke-width="0.2" transform="rotate(-45 47.10 535.90)">0.01</text>
<text x="81.05" y="535.90" font-size="8.0" font-weight="700" text-anchor="end" fill="#111" stroke="#111" stroke-width="0.2" transform="rotate(-45 81.05 535.90)">0.1</text>
<text x="115.00" y="535.90" font-size="8.0" font-weight="700" text-anchor="end" fill="#111" stroke="#111" stroke-width="0.2" transform="rotate(-45 115.00 535.90)">1</text>
<text x="148.95" y="535.90" font-size="8.0" font-weight="700" text-anchor="end" fill="#111" stroke="#111" stroke-width="0.2" transform="rotate(-45 148.95 535.90)">10</text>
<text x="182.90" y="535.90" font-size="8.0" font-weight="700" text-anchor="end" fill="#111" stroke="#111" stroke-width="0.2" transform="rotate(-45 182.90 535.90)">100</text>
<text x="216.85" y="535.90" font-size="8.0" font-weight="700" text-anchor="end" fill="#111" stroke="#111" stroke-width="0.2" transform="rotate(-45 216.85 535.90)">1,000</text>
<polyline points="48.80,441.33 49.80,441.33 50.80,441.34 51.80,441.34 52.79,441.34 53.79,441.34 54.79,441.34 55.79,441.34 56.79,441.35 57.79,441.35 58.79,441.35 59.79,441.35 60.78,441.36 61.78,441.36 62.78,441.36 63.78,441.37 64.78,441.37 65.78,441.38 66.78,441.38 67.77,441.39 68.77,441.39 69.77,441.40 70.77,441.41 71.77,441.41 72.77,441.42 73.77,441.43 74.77,441.44 75.76,441.45 76.76,441.46 77.76,441.47 78.76,441.49 79.76,441.50 80.76,441.52 81.76,441.53 82.75,441.55 83.75,441.57 84.75,441.59 85.75,441.62 86.75,441.64 87.75,441.67 88.75,441.70 89.74,441.73 90.74,441.77 91.74,441.81 92.74,441.85 93.74,441.90 94.74,441.94 95.74,442.00 96.74,442.06 97.73,442.12 98.73,442.19 99.73,442.26 100.73,442.34 101.73,442.43 102.73,442.52 103.73,442.63 104.72,442.74 105.72,442.86 106.72,442.99 107.72,443.13 108.72,443.28 109.72,443.45 110.72,443.63 111.72,443.82 112.71,444.03 113.71,444.25 114.71,444.50 115.71,444.76 116.71,445.04 117.71,445.35 118.71,445.67 119.70,446.03 120.70,446.41 121.70,446.82 122.70,447.25 123.70,447.72 124.70,448.23 125.70,448.77 126.70,449.34 127.69,449.96 128.69,450.61 129.69,451.31 130.69,452.05 131.69,452.83 132.69,453.66 133.69,454.54 134.68,455.47 135.68,456.45 136.68,457.47 137.68,458.55 138.68,459.67 139.68,460.84 140.68,462.06 141.68,463.33 142.67,464.64 143.67,465.99 144.67,467.37 145.67,468.80 146.67,470.25 147.67,471.73 148.67,473.23 149.66,474.75 150.66,476.29 151.66,477.83 152.66,479.37 153.66,480.91 154.66,482.44 155.66,483.96 156.66,485.46 157.65,486.94 158.65,488.39 159.65,489.80 160.65,491.19 161.65,492.53 162.65,493.83 163.65,495.09 164.64,496.30 165.64,497.46 166.64,498.58 167.64,499.65 168.64,500.66 169.64,501.63 170.64,502.55 171.63,503.42 172.63,504.25 173.63,505.03 174.63,505.76 175.63,506.45 176.63,507.10 177.63,507.70 178.63,508.27 179.62,508.81 180.62,509.30 181.62,509.77 182.62,510.20 183.62,510.61 184.62,510.98 185.62,511.33 186.61,511.65 187.61,511.96 188.61,512.24 189.61,512.49 190.61,512.73 191.61,512.96 192.61,513.16 193.61,513.35 194.60,513.53 195.60,513.69 196.60,513.84 197.60,513.98" fill="none" stroke="#20a020" stroke-width="1.4"/>
<polyline points="48.80,454.77 49.80,454.77 50.80,454.78 51.80,454.78 52.79,454.78 53.79,454.78 54.79,454.78 55.79,454.78 56.79,454.78 57.79,454.79 58.79,454.79 59.79,454.79 60.78,454.79 61.78,454.80 62.78,454.80 63.78,454.80 64.78,454.81 65.78,454.81 66.78,454.81 67.77,454.82 68.77,454.82 69.77,454.83 70.77,454.83 71.77,454.84 72.77,454.84 73.77,454.85 74.77,454.86 75.76,454.87 76.76,454.88 77.76,454.89 78.76,454.90 79.76,454.91 80.76,454.92 81.76,454.93 82.75,454.95 83.75,454.96 84.75,454.98 85.75,454.99 86.75,455.01 87.75,455.03 88.75,455.06 89.74,455.08 90.74,455.11 91.74,455.13 92.74,455.16 93.74,455.20 94.74,455.23 95.74,455.27 96.74,455.31 97.73,455.36 98.73,455.40 99.73,455.45 100.73,455.51 101.73,455.57 102.73,455.64 103.73,455.71 104.72,455.78 105.72,455.86 106.72,455.95 107.72,456.05 108.72,456.15 109.72,456.26 110.72,456.38 111.72,456.51 112.71,456.65 113.71,456.79 114.71,456.95 115.71,457.13 116.71,457.31 117.71,457.51 118.71,457.72 119.70,457.95 120.70,458.20 121.70,458.46 122.70,458.74 123.70,459.04 124.70,459.37 125.70,459.71 126.70,460.08 127.69,460.47 128.69,460.89 129.69,461.34 130.69,461.81 131.69,462.32 132.69,462.85 133.69,463.42 134.68,464.02 135.68,464.66 136.68,465.33 137.68,466.03 138.68,466.77 139.68,467.55 140.68,468.36 141.68,469.21 142.67,470.10 143.67,471.03 144.67,471.98 145.67,472.98 146.67,474.00 147.67,475.06 148.67,476.15 149.66,477.26 150.66,478.40 151.66,479.56 152.66,480.74 153.66,481.93 154.66,483.14 155.66,484.35 156.66,485.57 157.65,486.79 158.65,488.01 159.65,489.22 160.65,490.43 161.65,491.62 162.65,492.79 163.65,493.94 164.64,495.07 165.64,496.18 166.64,497.25 167.64,498.30 168.64,499.31 169.64,500.29 170.64,501.24 171.63,502.15 172.63,503.03 173.63,503.86 174.63,504.67 175.63,505.43 176.63,506.16 177.63,506.85 178.63,507.51 179.62,508.13 180.62,508.72 181.62,509.28 182.62,509.80 183.62,510.30 184.62,510.76 185.62,511.20 186.61,511.61 187.61,511.99 188.61,512.35 189.61,512.69 190.61,513.00 191.61,513.30 192.61,513.57 193.61,513.83 194.60,514.07 195.60,514.29 196.60,514.50 197.60,514.70" fill="none" stroke="#1818a8" stroke-width="1.4"/>
<polyline points="48.80,461.28 49.80,461.28 50.80,461.28 51.80,461.28 52.79,461.28 53.79,461.29 54.79,461.29 55.79,461.29 56.79,461.30 57.79,461.30 58.79,461.30 59.79,461.31 60.78,461.32 61.78,461.33 62.78,461.33 63.78,461.35 64.78,461.36 65.78,461.37 66.78,461.39 67.77,461.41 68.77,461.44 69.77,461.47 70.77,461.50 71.77,461.54 72.77,461.58 73.77,461.64 74.77,461.70 75.76,461.77 76.76,461.86 77.76,461.96 78.76,462.07 79.76,462.21 80.76,462.37 81.76,462.55 82.75,462.76 83.75,463.01 84.75,463.30 85.75,463.64 86.75,464.02 87.75,464.47 88.75,464.99 89.74,465.58 90.74,466.26 91.74,467.04 92.74,467.92 93.74,468.92 94.74,470.05 95.74,471.31 96.74,472.72 97.73,474.27 98.73,475.98 99.73,477.84 100.73,479.84 101.73,481.97 102.73,484.22 103.73,486.57 104.72,489.00 105.72,491.47 106.72,493.96 107.72,496.44 108.72,498.86 109.72,501.22 110.72,503.48 111.72,505.62 112.71,507.63 113.71,509.49 114.71,511.21 115.71,512.77 116.71,514.19 117.71,515.46 118.71,516.59 119.70,517.60 120.70,518.49 121.70,519.27 122.70,519.95 123.70,520.55 124.70,521.07 125.70,521.52 126.70,521.91 127.69,522.25 128.69,522.54 129.69,522.79 130.69,523.01 131.69,523.19 132.69,523.35 133.69,523.49 134.68,523.61 135.68,523.71 136.68,523.79 137.68,523.87 138.68,523.93 139.68,523.98 140.68,524.03 141.68,524.07 142.67,524.10 143.67,524.13 144.67,524.16 145.67,524.18 146.67,524.19 147.67,524.21 148.67,524.22 149.66,524.23 150.66,524.24 151.66,524.25 152.66,524.26 153.66,524.27 154.66,524.27 155.66,524.27 156.66,524.28 157.65,524.28 158.65,524.28 159.65,524.29 160.65,524.29 161.65,524.29 162.65,524.29 163.65,524.29 164.64,524.29 165.64,524.29 166.64,524.30 167.64,524.30 168.64,524.30 169.64,524.30 170.64,524.30 171.63,524.30 172.63,524.30 173.63,524.30 174.63,524.30 175.63,524.30 176.63,524.30 177.63,524.30 178.63,524.30 179.62,524.30 180.62,524.30 181.62,524.30 182.62,524.30 183.62,524.30 184.62,524.30 185.62,524.30 186.61,524.30 187.61,524.30 188.61,524.30 189.61,524.30 190.61,524.30 191.61,524.30 192.61,524.30 193.61,524.30 194.60,524.30 195.60,524.30 196.60,524.30 197.60,524.30" fill="none" stroke="#c81c1c" stroke-width="1.4"/>
<path d="M48.80 442.20V448.20M46.30 442.20H51.30M46.30 448.20H51.30" stroke="#1eae22" stroke-width="1.2" fill="none"/>
<rect x="46.30" y="442.70" width="5.00" height="5.00" fill="#1eae22"/>
<path d="M66.20 440.50V457.50M63.70 440.50H68.70M63.70 457.50H68.70" stroke="#1eae22" stroke-width="1.2" fill="none"/>
<rect x="63.70" y="446.50" width="5.00" height="5.00" fill="#1eae22"/>
<path d="M83.10 442.90V457.90M80.60 442.90H85.60M80.60 457.90H85.60" stroke="#1eae22" stroke-width="1.2" fill="none"/>
<rect x="80.60" y="447.90" width="5.00" height="5.00" fill="#1eae22"/>
<path d="M96.30 424.70V440.70M93.80 424.70H98.80M93.80 440.70H98.80" stroke="#1eae22" stroke-width="1.2" fill="none"/>
<rect x="93.80" y="430.20" width="5.00" height="5.00" fill="#1eae22"/>
<path d="M113.30 427.00V436.00M110.80 427.00H115.80M110.80 436.00H115.80" stroke="#1eae22" stroke-width="1.2" fill="none"/>
<rect x="110.80" y="429.00" width="5.00" height="5.00" fill="#1eae22"/>
<path d="M122.90 442.00V450.00M120.40 442.00H125.40M120.40 450.00H125.40" stroke="#1eae22" stroke-width="1.2" fill="none"/>
<rect x="120.40" y="443.50" width="5.00" height="5.00" fill="#1eae22"/>
<rect x="131.30" y="454.20" width="5.00" height="5.00" fill="#1eae22"/>
<rect x="141.60" y="468.70" width="5.00" height="5.00" fill="#1eae22"/>
<rect x="151.30" y="478.90" width="5.00" height="5.00" fill="#1eae22"/>
<rect x="161.50" y="493.80" width="5.00" height="5.00" fill="#1eae22"/>
<rect x="178.30" y="506.30" width="5.00" height="5.00" fill="#1eae22"/>
<rect x="195.10" y="513.60" width="5.00" height="5.00" fill="#1eae22"/>
<circle cx="48.80" cy="461.00" r="2.50" fill="#d01030"/>
<path d="M66.20 457.60V463.60M63.70 457.60H68.70M63.70 463.60H68.70" stroke="#d01030" stroke-width="1.2" fill="none"/>
<circle cx="66.20" cy="460.60" r="2.50" fill="#d01030"/>
<path d="M83.10 463.80V469.80M80.60 463.80H85.60M80.60 469.80H85.60" stroke="#d01030" stroke-width="1.2" fill="none"/>
<circle cx="83.10" cy="466.80" r="2.50" fill="#d01030"/>
<path d="M96.30 465.10V479.10M93.80 465.10H98.80M93.80 479.10H98.80" stroke="#d01030" stroke-width="1.2" fill="none"/>
<circle cx="96.30" cy="472.10" r="2.50" fill="#d01030"/>
<circle cx="113.30" cy="509.80" r="2.50" fill="#d01030"/>
<circle cx="122.90" cy="520.40" r="2.50" fill="#d01030"/>
<circle cx="133.80" cy="523.70" r="2.50" fill="#d01030"/>
<circle cx="144.10" cy="523.90" r="2.50" fill="#d01030"/>
<circle cx="153.80" cy="524.20" r="2.50" fill="#d01030"/>
<circle cx="164.00" cy="524.00" r="2.50" fill="#d01030"/>
<circle cx="180.80" cy="522.70" r="2.50" fill="#d01030"/>
<circle cx="197.60" cy="523.30" r="2.50" fill="#d01030"/>
<path d="M48.80 455.70V461.70M46.30 455.70H51.30M46.30 461.70H51.30" stroke="#0c0cb0" stroke-width="1.2" fill="none"/>
<polygon points="48.80,455.95 51.60,460.95 46.00,460.95" fill="#0c0cb0"/>
<path d="M66.20 460.40V468.40M63.70 460.40H68.70M63.70 468.40H68.70" stroke="#0c0cb0" stroke-width="1.2" fill="none"/>
<polygon points="66.20,461.65 69.00,466.65 63.40,466.65" fill="#0c0cb0"/>
<path d="M83.10 461.40V467.40M80.60 461.40H85.60M80.60 467.40H85.60" stroke="#0c0cb0" stroke-width="1.2" fill="none"/>
<polygon points="83.10,461.65 85.90,466.65 80.30,466.65" fill="#0c0cb0"/>
<path d="M96.30 443.90V461.90M93.80 443.90H98.80M93.80 461.90H98.80" stroke="#0c0cb0" stroke-width="1.2" fill="none"/>
<polygon points="96.30,450.15 99.10,455.15 93.50,455.15" fill="#0c0cb0"/>
<path d="M113.30 435.30V447.30M110.80 435.30H115.80M110.80 447.30H115.80" stroke="#0c0cb0" stroke-width="1.2" fill="none"/>
<polygon points="113.30,438.55 116.10,443.55 110.50,443.55" fill="#0c0cb0"/>
<path d="M122.90 442.20V450.20M120.40 442.20H125.40M120.40 450.20H125.40" stroke="#0c0cb0" stroke-width="1.2" fill="none"/>
<polygon points="122.90,443.45 125.70,448.45 120.10,448.45" fill="#0c0cb0"/>
<polygon points="133.80,464.55 136.60,469.55 131.00,469.55" fill="#0c0cb0"/>
<polygon points="144.10,470.35 146.90,475.35 141.30,475.35" fill="#0c0cb0"/>
<polygon points="153.80,483.85 156.60,488.85 151.00,488.85" fill="#0c0cb0"/>
<polygon points="164.00,493.55 166.80,498.55 161.20,498.55" fill="#0c0cb0"/>
<polygon points="180.80,506.05 183.60,511.05 178.00,511.05" fill="#0c0cb0"/>
<polygon points="197.60,515.75 200.40,520.75 194.80,520.75" fill="#0c0cb0"/>
<rect x="180.50" y="444.70" width="5.00" height="5.00" fill="#1eae22"/>
<text x="196.09" y="450.10" font-size="9.2" font-weight="400" fill="#111" textLength="28.18" lengthAdjust="spacing">-VEGF</text>
<circle cx="183.00" cy="460.20" r="2.50" fill="#d01030"/>
<text x="196.05" y="463.10" font-size="9.2" font-weight="400" fill="#111" textLength="30.32" lengthAdjust="spacing">+VEGF</text>
<polygon points="183.00,470.45 185.80,475.45 180.20,475.45" fill="#0c0cb0"/>
<text x="195.75" y="476.00" font-size="9.2" font-weight="400" fill="#111" textLength="66.27" lengthAdjust="spacing">Negative control</text>
<text x="313.95" y="403.60" font-size="9.7" font-weight="700" fill="#111" stroke="#111" stroke-width="0.35" textLength="152.80" lengthAdjust="spacingAndGlyphs">DLL4 mAb + VEGF mAb <tspan text-decoration="underline">+</tspan> VEGF</text>
<text x="282.50" y="522.13" font-size="9.4" font-weight="700" fill="#111" stroke="#111" stroke-width="0.2" textLength="92.71" lengthAdjust="spacing" transform="rotate(-90 282.50 522.13)">Fold notch activation</text>
<text x="334.01" y="565.90" font-size="9.4" font-weight="700" fill="#111" stroke="#111" stroke-width="0.2" textLength="101.35" lengthAdjust="spacingAndGlyphs">Concentration (nmol/L)</text>
<path d="M303.50 419.30V532.00" stroke="#111" stroke-width="1.7" fill="none"/>
<path d="M303.50 532.00H299.70 M303.50 523.95H300.80 M303.50 515.90H299.70 M303.50 507.85H300.80 M303.50 499.80H299.70 M303.50 491.75H300.80 M303.50 483.70H299.70 M303.50 475.65H300.80 M303.50 467.60H299.70 M303.50 459.55H300.80 M303.50 451.50H299.70 M303.50 443.45H300.80 M303.50 435.40H299.70 M303.50 427.35H300.80 M303.50 419.30H299.70" stroke="#111" stroke-width="1.2" fill="none"/>
<text x="299.60" y="534.80" font-size="8.2" font-weight="700" text-anchor="end" fill="#111" stroke="#111" stroke-width="0.2">0</text>
<text x="299.60" y="518.70" font-size="8.2" font-weight="700" text-anchor="end" fill="#111" stroke="#111" stroke-width="0.2">50</text>
<text x="299.60" y="502.60" font-size="8.2" font-weight="700" text-anchor="end" fill="#111" stroke="#111" stroke-width="0.2">100</text>
<text x="299.60" y="486.50" font-size="8.2" font-weight="700" text-anchor="end" fill="#111" stroke="#111" stroke-width="0.2">150</text>
<text x="299.60" y="470.40" font-size="8.2" font-weight="700" text-anchor="end" fill="#111" stroke="#111" stroke-width="0.2">200</text>
<text x="299.60" y="454.30" font-size="8.2" font-weight="700" text-anchor="end" fill="#111" stroke="#111" stroke-width="0.2">250</text>
<text x="299.60" y="438.20" font-size="8.2" font-weight="700" text-anchor="end" fill="#111" stroke="#111" stroke-width="0.2">300</text>
<text x="299.60" y="422.10" font-size="8.2" font-weight="700" text-anchor="end" fill="#111" stroke="#111" stroke-width="0.2">350</text>
<path d="M303.60 532.00H472.30" stroke="#111" stroke-width="1.6" fill="none"/>
<path d="M303.60 532.00V535.60 M313.76 532.00V534.70 M319.70 532.00V534.70 M323.91 532.00V534.70 M327.18 532.00V534.70 M329.85 532.00V534.70 M332.11 532.00V534.70 M334.07 532.00V534.70 M335.80 532.00V534.70 M337.34 532.00V535.60 M347.50 532.00V534.70 M353.44 532.00V534.70 M357.65 532.00V534.70 M360.92 532.00V534.70 M363.59 532.00V534.70 M365.85 532.00V534.70 M367.81 532.00V534.70 M369.54 532.00V534.70 M371.08 532.00V535.60 M381.24 532.00V534.70 M387.18 532.00V534.70 M391.39 532.00V534.70 M394.66 532.00V534.70 M397.33 532.00V534.70 M399.59 532.00V534.70 M401.55 532.00V534.70 M403.28 532.00V534.70 M404.82 532.00V535.60 M414.98 532.00V534.70 M420.92 532.00V534.70 M425.13 532.00V534.70 M428.40 532.00V534.70 M431.07 532.00V534.70 M433.33 532.00V534.70 M435.29 532.00V534.70 M437.02 532.00V534.70 M438.56 532.00V535.60 M448.72 532.00V534.70 M454.66 532.00V534.70 M458.87 532.00V534.70 M462.14 532.00V534.70 M464.81 532.00V534.70 M467.07 532.00V534.70 M469.03 532.00V534.70 M470.76 532.00V534.70 M472.30 532.00V535.60" stroke="#111" stroke-width="1.2" fill="none"/>
<text x="305.10" y="542.40" font-size="8.0" font-weight="700" text-anchor="end" fill="#111" stroke="#111" stroke-width="0.2" transform="rotate(-45 305.10 542.40)">0.01</text>
<text x="338.84" y="542.40" font-size="8.0" font-weight="700" text-anchor="end" fill="#111" stroke="#111" stroke-width="0.2" transform="rotate(-45 338.84 542.40)">0.1</text>
<text x="372.58" y="542.40" font-size="8.0" font-weight="700" text-anchor="end" fill="#111" stroke="#111" stroke-width="0.2" transform="rotate(-45 372.58 542.40)">1</text>
<text x="406.32" y="542.40" font-size="8.0" font-weight="700" text-anchor="end" fill="#111" stroke="#111" stroke-width="0.2" transform="rotate(-45 406.32 542.40)">10</text>
<text x="440.06" y="542.40" font-size="8.0" font-weight="700" text-anchor="end" fill="#111" stroke="#111" stroke-width="0.2" transform="rotate(-45 440.06 542.40)">100</text>
<text x="473.80" y="542.40" font-size="8.0" font-weight="700" text-anchor="end" fill="#111" stroke="#111" stroke-width="0.2" transform="rotate(-45 473.80 542.40)">1,000</text>
<polyline points="306.90,455.11 307.90,455.11 308.89,455.11 309.89,455.11 310.88,455.12 311.88,455.12 312.87,455.12 313.87,455.12 314.86,455.13 315.86,455.13 316.85,455.13 317.85,455.14 318.84,455.14 319.84,455.14 320.83,455.15 321.83,455.15 322.83,455.16 323.82,455.17 324.82,455.17 325.81,455.18 326.81,455.19 327.80,455.20 328.80,455.21 329.79,455.22 330.79,455.23 331.78,455.24 332.78,455.26 333.77,455.27 334.77,455.29 335.76,455.30 336.76,455.32 337.76,455.34 338.75,455.37 339.75,455.39 340.74,455.42 341.74,455.45 342.73,455.48 343.73,455.51 344.72,455.55 345.72,455.59 346.71,455.64 347.71,455.69 348.70,455.74 349.70,455.80 350.69,455.86 351.69,455.93 352.69,456.00 353.68,456.08 354.68,456.17 355.67,456.27 356.67,456.37 357.66,456.48 358.66,456.61 359.65,456.74 360.65,456.88 361.64,457.04 362.64,457.21 363.63,457.39 364.63,457.59 365.62,457.81 366.62,458.04 367.62,458.30 368.61,458.57 369.61,458.87 370.60,459.18 371.60,459.53 372.59,459.90 373.59,460.30 374.58,460.73 375.58,461.19 376.57,461.69 377.57,462.22 378.56,462.79 379.56,463.40 380.55,464.05 381.55,464.74 382.55,465.48 383.54,466.26 384.54,467.09 385.53,467.97 386.53,468.90 387.52,469.88 388.52,470.90 389.51,471.98 390.51,473.11 391.50,474.28 392.50,475.50 393.49,476.76 394.49,478.07 395.48,479.42 396.48,480.80 397.48,482.21 398.47,483.65 399.47,485.11 400.46,486.59 401.46,488.09 402.45,489.59 403.45,491.09 404.44,492.59 405.44,494.08 406.43,495.56 407.43,497.01 408.42,498.44 409.42,499.85 410.41,501.21 411.41,502.55 412.41,503.84 413.40,505.09 414.40,506.29 415.39,507.45 416.39,508.55 417.38,509.61 418.38,510.62 419.37,511.58 420.37,512.49 421.36,513.35 422.36,514.17 423.35,514.93 424.35,515.65 425.34,516.33 426.34,516.97 427.34,517.56 428.33,518.12 429.33,518.64 430.32,519.12 431.32,519.57 432.31,519.99 433.31,520.38 434.30,520.74 435.30,521.07 436.29,521.38 437.29,521.67 438.28,521.94 439.28,522.18 440.27,522.41 441.27,522.62 442.27,522.81 443.26,522.99 444.26,523.16 445.25,523.31 446.25,523.45 447.24,523.58 448.24,523.70 449.23,523.81 450.23,523.91 451.22,524.00 452.22,524.09 453.21,524.16 454.21,524.24 455.20,524.30 456.20,524.36" fill="none" stroke="#20a020" stroke-width="1.4"/>
<polyline points="306.90,464.21 307.90,464.21 308.89,464.21 309.89,464.21 310.88,464.21 311.88,464.21 312.87,464.21 313.87,464.21 314.86,464.22 315.86,464.22 316.85,464.22 317.85,464.22 318.84,464.22 319.84,464.22 320.83,464.23 321.83,464.23 322.83,464.23 323.82,464.23 324.82,464.24 325.81,464.24 326.81,464.24 327.80,464.25 328.80,464.25 329.79,464.26 330.79,464.26 331.78,464.27 332.78,464.28 333.77,464.28 334.77,464.29 335.76,464.30 336.76,464.31 337.76,464.32 338.75,464.33 339.75,464.34 340.74,464.36 341.74,464.37 342.73,464.39 343.73,464.41 344.72,464.43 345.72,464.45 346.71,464.47 347.71,464.50 348.70,464.53 349.70,464.56 350.69,464.59 351.69,464.63 352.69,464.67 353.68,464.71 354.68,464.76 355.67,464.81 356.67,464.87 357.66,464.93 358.66,465.00 359.65,465.08 360.65,465.16 361.64,465.25 362.64,465.34 363.63,465.45 364.63,465.56 365.62,465.69 366.62,465.83 367.62,465.98 368.61,466.14 369.61,466.32 370.60,466.51 371.60,466.72 372.59,466.95 373.59,467.20 374.58,467.47 375.58,467.76 376.57,468.07 377.57,468.41 378.56,468.78 379.56,469.18 380.55,469.61 381.55,470.07 382.55,470.57 383.54,471.11 384.54,471.68 385.53,472.30 386.53,472.95 387.52,473.65 388.52,474.40 389.51,475.19 390.51,476.03 391.50,476.92 392.50,477.85 393.49,478.84 394.49,479.87 395.48,480.95 396.48,482.07 397.48,483.23 398.47,484.44 399.47,485.68 400.46,486.96 401.46,488.26 402.45,489.60 403.45,490.95 404.44,492.31 405.44,493.69 406.43,495.07 407.43,496.45 408.42,497.83 409.42,499.19 410.41,500.53 411.41,501.85 412.41,503.15 413.40,504.41 414.40,505.63 415.39,506.82 416.39,507.96 417.38,509.07 418.38,510.12 419.37,511.13 420.37,512.09 421.36,513.00 422.36,513.87 423.35,514.69 424.35,515.46 425.34,516.18 426.34,516.86 427.34,517.50 428.33,518.09 429.33,518.65 430.32,519.17 431.32,519.65 432.31,520.09 433.31,520.51 434.30,520.89 435.30,521.25 436.29,521.58 437.29,521.88 438.28,522.16 439.28,522.42 440.27,522.66 441.27,522.88 442.27,523.08 443.26,523.27 444.26,523.44 445.25,523.59 446.25,523.74 447.24,523.87 448.24,523.99 449.23,524.10 450.23,524.20 451.22,524.30 452.22,524.38 453.21,524.46 454.21,524.53 455.20,524.60 456.20,524.66" fill="none" stroke="#c81c1c" stroke-width="1.4"/>
<polyline points="306.90,463.92 307.90,463.92 308.89,463.92 309.89,463.92 310.88,463.92 311.88,463.92 312.87,463.92 313.87,463.92 314.86,463.93 315.86,463.93 316.85,463.93 317.85,463.93 318.84,463.93 319.84,463.94 320.83,463.94 321.83,463.94 322.83,463.94 323.82,463.95 324.82,463.95 325.81,463.95 326.81,463.96 327.80,463.96 328.80,463.97 329.79,463.97 330.79,463.98 331.78,463.99 332.78,463.99 333.77,464.00 334.77,464.01 335.76,464.02 336.76,464.03 337.76,464.04 338.75,464.05 339.75,464.07 340.74,464.08 341.74,464.10 342.73,464.12 343.73,464.13 344.72,464.16 345.72,464.18 346.71,464.20 347.71,464.23 348.70,464.26 349.70,464.30 350.69,464.33 351.69,464.37 352.69,464.41 353.68,464.46 354.68,464.51 355.67,464.57 356.67,464.63 357.66,464.70 358.66,464.77 359.65,464.85 360.65,464.94 361.64,465.04 362.64,465.14 363.63,465.25 364.63,465.38 365.62,465.51 366.62,465.66 367.62,465.82 368.61,466.00 369.61,466.19 370.60,466.39 371.60,466.62 372.59,466.86 373.59,467.12 374.58,467.41 375.58,467.72 376.57,468.06 377.57,468.42 378.56,468.82 379.56,469.24 380.55,469.70 381.55,470.19 382.55,470.71 383.54,471.28 384.54,471.89 385.53,472.54 386.53,473.23 387.52,473.96 388.52,474.75 389.51,475.58 390.51,476.46 391.50,477.38 392.50,478.36 393.49,479.38 394.49,480.44 395.48,481.56 396.48,482.72 397.48,483.91 398.47,485.15 399.47,486.42 400.46,487.72 401.46,489.05 402.45,490.40 403.45,491.77 404.44,493.14 405.44,494.53 406.43,495.91 407.43,497.29 408.42,498.65 409.42,500.00 410.41,501.33 411.41,502.63 412.41,503.91 413.40,505.14 414.40,506.34 415.39,507.50 416.39,508.61 417.38,509.68 418.38,510.70 419.37,511.67 420.37,512.60 421.36,513.48 422.36,514.31 423.35,515.09 424.35,515.83 425.34,516.52 426.34,517.17 427.34,517.78 428.33,518.34 429.33,518.87 430.32,519.36 431.32,519.82 432.31,520.24 433.31,520.64 434.30,521.00 435.30,521.34 436.29,521.65 437.29,521.93 438.28,522.20 439.28,522.44 440.27,522.67 441.27,522.87 442.27,523.06 443.26,523.24 444.26,523.40 445.25,523.55 446.25,523.68 447.24,523.81 448.24,523.92 449.23,524.02 450.23,524.12 451.22,524.21 452.22,524.29 453.21,524.36 454.21,524.43 455.20,524.49 456.20,524.55" fill="none" stroke="#1818a8" stroke-width="1.4"/>
<path d="M306.90 456.30V464.30M304.40 456.30H309.40M304.40 464.30H309.40" stroke="#1eae22" stroke-width="1.2" fill="none"/>
<rect x="304.40" y="457.80" width="5.00" height="5.00" fill="#1eae22"/>
<path d="M323.80 455.60V463.60M321.30 455.60H326.30M321.30 463.60H326.30" stroke="#1eae22" stroke-width="1.2" fill="none"/>
<rect x="321.30" y="457.10" width="5.00" height="5.00" fill="#1eae22"/>
<path d="M354.30 437.30V447.30M351.80 437.30H356.80M351.80 447.30H356.80" stroke="#1eae22" stroke-width="1.2" fill="none"/>
<rect x="351.80" y="439.80" width="5.00" height="5.00" fill="#1eae22"/>
<path d="M371.60 445.70V453.70M369.10 445.70H374.10M369.10 453.70H374.10" stroke="#1eae22" stroke-width="1.2" fill="none"/>
<rect x="369.10" y="447.20" width="5.00" height="5.00" fill="#1eae22"/>
<path d="M381.30 451.20V461.20M378.80 451.20H383.80M378.80 461.20H383.80" stroke="#1eae22" stroke-width="1.2" fill="none"/>
<rect x="378.80" y="453.70" width="5.00" height="5.00" fill="#1eae22"/>
<rect x="389.40" y="479.10" width="5.00" height="5.00" fill="#1eae22"/>
<rect x="399.20" y="485.50" width="5.00" height="5.00" fill="#1eae22"/>
<path d="M412.00 498.00V502.00M409.50 498.00H414.50M409.50 502.00H414.50" stroke="#1eae22" stroke-width="1.2" fill="none"/>
<rect x="409.50" y="497.50" width="5.00" height="5.00" fill="#1eae22"/>
<rect x="419.50" y="510.50" width="5.00" height="5.00" fill="#1eae22"/>
<rect x="436.70" y="520.00" width="5.00" height="5.00" fill="#1eae22"/>
<rect x="453.70" y="524.50" width="5.00" height="5.00" fill="#1eae22"/>
<path d="M323.80 466.60V472.60M321.30 466.60H326.30M321.30 472.60H326.30" stroke="#d01030" stroke-width="1.2" fill="none"/>
<circle cx="323.80" cy="469.60" r="2.50" fill="#d01030"/>
<circle cx="341.10" cy="470.70" r="2.50" fill="#d01030"/>
<circle cx="354.30" cy="460.30" r="2.50" fill="#d01030"/>
<circle cx="371.60" cy="463.00" r="2.50" fill="#d01030"/>
<path d="M381.30 458.00V466.00M378.80 458.00H383.80M378.80 466.00H383.80" stroke="#d01030" stroke-width="1.2" fill="none"/>
<circle cx="381.30" cy="462.00" r="2.50" fill="#d01030"/>
<circle cx="391.90" cy="481.60" r="2.50" fill="#d01030"/>
<circle cx="401.70" cy="491.00" r="2.50" fill="#d01030"/>
<circle cx="412.00" cy="501.00" r="2.50" fill="#d01030"/>
<circle cx="422.00" cy="513.00" r="2.50" fill="#d01030"/>
<circle cx="439.20" cy="522.50" r="2.50" fill="#d01030"/>
<circle cx="456.20" cy="527.00" r="2.50" fill="#d01030"/>
<path d="M306.90 468.20V474.20M304.40 468.20H309.40M304.40 474.20H309.40" stroke="#0c0cb0" stroke-width="1.2" fill="none"/>
<polygon points="306.90,468.45 309.70,473.45 304.10,473.45" fill="#0c0cb0"/>
<path d="M323.80 471.80V479.80M321.30 471.80H326.30M321.30 479.80H326.30" stroke="#0c0cb0" stroke-width="1.2" fill="none"/>
<polygon points="323.80,473.05 326.60,478.05 321.00,478.05" fill="#0c0cb0"/>
<path d="M341.10 459.20V469.20M338.60 459.20H343.60M338.60 469.20H343.60" stroke="#0c0cb0" stroke-width="1.2" fill="none"/>
<polygon points="341.10,461.45 343.90,466.45 338.30,466.45" fill="#0c0cb0"/>
<path d="M354.30 445.40V455.40M351.80 445.40H356.80M351.80 455.40H356.80" stroke="#0c0cb0" stroke-width="1.2" fill="none"/>
<polygon points="354.30,447.65 357.10,452.65 351.50,452.65" fill="#0c0cb0"/>
<path d="M371.60 448.30V460.30M369.10 448.30H374.10M369.10 460.30H374.10" stroke="#0c0cb0" stroke-width="1.2" fill="none"/>
<polygon points="371.60,451.55 374.40,456.55 368.80,456.55" fill="#0c0cb0"/>
<polygon points="381.30,468.45 384.10,473.45 378.50,473.45" fill="#0c0cb0"/>
<polygon points="391.90,479.75 394.70,484.75 389.10,484.75" fill="#0c0cb0"/>
<polygon points="401.70,489.25 404.50,494.25 398.90,494.25" fill="#0c0cb0"/>
<polygon points="412.00,502.75 414.80,507.75 409.20,507.75" fill="#0c0cb0"/>
<polygon points="422.00,510.25 424.80,515.25 419.20,515.25" fill="#0c0cb0"/>
<polygon points="439.20,519.75 442.00,524.75 436.40,524.75" fill="#0c0cb0"/>
<path d="M456.20 525.00V529.00M453.70 525.00H458.70M453.70 529.00H458.70" stroke="#0c0cb0" stroke-width="1.2" fill="none"/>
<polygon points="456.20,524.25 459.00,529.25 453.40,529.25" fill="#0c0cb0"/>
<rect x="438.70" y="450.00" width="5.00" height="5.00" fill="#1eae22"/>
<text x="453.79" y="456.30" font-size="9.2" font-weight="400" fill="#111" textLength="27.78" lengthAdjust="spacing">-VEGF</text>
<circle cx="441.20" cy="465.70" r="2.50" fill="#d01030"/>
<text x="453.75" y="468.70" font-size="9.2" font-weight="400" fill="#111" textLength="30.32" lengthAdjust="spacing">+VEGF</text>
<polygon points="441.20,476.45 444.00,481.45 438.40,481.45" fill="#0c0cb0"/>
<text x="453.45" y="481.90" font-size="9.2" font-weight="400" fill="#111" textLength="65.97" lengthAdjust="spacing">Negative control</text>
</svg></body></html>
